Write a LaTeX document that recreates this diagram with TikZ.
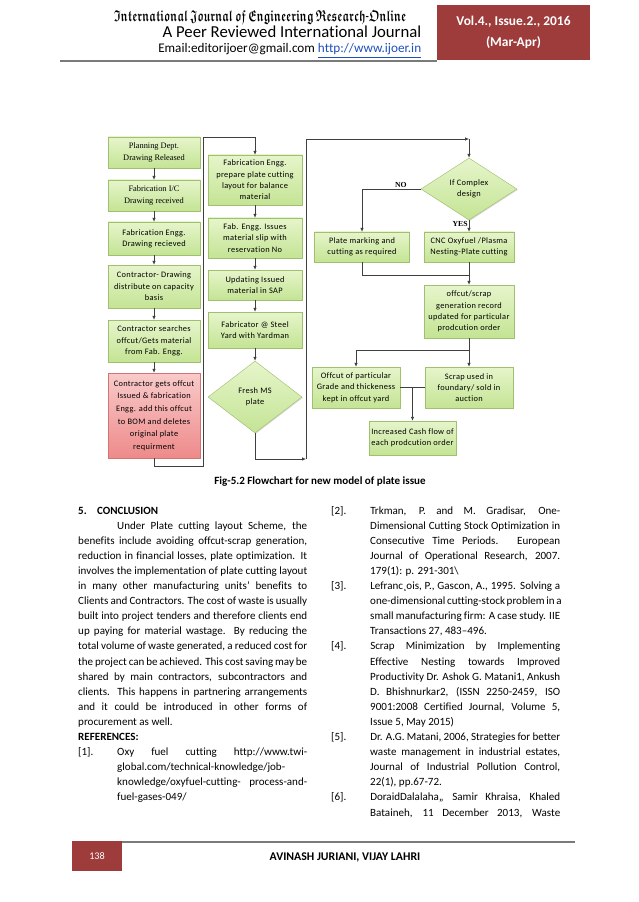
\documentclass[tikz,border=0pt]{standalone}
\usepackage{amsfonts}
\usepackage{fontspec}
\setmainfont{Carlito}[Ligatures=NoCommon]
\newfontfamily\boxfont{Carlito}[LetterSpace=4, Ligatures=NoCommon]
\newfontfamily\boxserif{Liberation Serif}
\usetikzlibrary{arrows.meta,shapes.geometric,shadows}

\definecolor{greentop}{HTML}{E6F5CB}
\definecolor{greenbot}{HTML}{C4E494}
\definecolor{greenedge}{HTML}{A0C070}
\definecolor{redtop}{HTML}{F9CACA}
\definecolor{redbot}{HTML}{EE8A8A}
\definecolor{rededge}{HTML}{D07474}
\definecolor{linegray}{HTML}{3F3F3F}
\definecolor{rulegray}{HTML}{7A7A7A}
\definecolor{journalred}{HTML}{9E3B3B}
\definecolor{linkblue}{HTML}{1F4FBF}

\newcommand\fullline[1]{\makebox[213.6pt][s]{#1}}
\newcommand\refline[1]{\makebox[177.2pt][s]{#1}}
\newcommand\plainline[1]{#1}
\newcommand\reflabel[1]{\makebox[36.4pt][l]{#1}}
\newcommand\frakword[1]{{\boldmath$\mathfrak{#1}$}}

\tikzset{%
  every box/.style={
    rectangle,
    draw=greenedge,
    line width=0.4pt,
    top color=greentop,
    bottom color=greenbot,
    drop shadow={shadow xshift=0.8pt, shadow yshift=-0.8pt, opacity=0.3},
    align=center,
    inner sep=1pt,
    font=\boxfont\fontsize{7.8}{10.6}\selectfont
  },
  box serif/.style={
    font=\boxserif\fontsize{7.8}{10.6}\selectfont
  },
  box red/.style={
    draw=rededge,
    top color=redtop,
    bottom color=redbot,
    font=\boxfont\fontsize{7.8}{11.8}\selectfont
  },
  box decision/.style={diamond, inner sep=0pt},
  px size/.style 2 args={minimum width=#1*0.9326pt, minimum height=#2*0.9326pt},
  flow line/.style={draw=linegray, line width=0.6pt},
  page rule/.style={draw=rulegray, line width=1.4pt},
  yes no/.style={font=\boxserif\bfseries\fontsize{7.2}{8}\selectfont, inner sep=1pt},
  body line/.style={anchor=base west, inner sep=0pt, font=\fontsize{10.3}{14}\selectfont}
 }

\begin{document}
\begin{tikzpicture}[x=0.9326pt, y=-0.9326pt, >={Latex[length=3.6pt,width=3.2pt]}]

\useasboundingbox (0,0) rectangle (638,902);
\fill[white] (0,0) rectangle (638,902);

% header
\node[anchor=base, font=\fontsize{15}{18}\selectfont] (journal) at (260,22)
  {\scalebox{0.675}[0.98]{\frakword{International} \frakword{Journal} \frakword{of}
   \frakword{Engineering} \frakword{Research}-\frakword{Online}}};
\node[anchor=base east, font=\fontsize{15.6}{18}\selectfont] (peer) at (425,38)
  {A Peer Reviewed International Journal};
\node[anchor=base east, font=\fontsize{12.3}{14}\selectfont] (email) at (425,53)
  {Email:editorijoer@gmail.com \textcolor{linkblue}{\underline{http://www.ijoer.in}}};
\node[fill=journalred, px size={153}{55}, align=center, text=white,
  font=\bfseries\fontsize{12.5}{19.5}\selectfont] (volume) at (513.5,32.5)
  {Vol.4., Issue.2., 2016\\(Mar-Apr)};
\coordinate (rule-start) at (60,61);
\draw [page rule] (rule-start) -- (rule-start -| volume.west);

% flowchart
\foreach \txt/\y/\h/\how [count=\i] in {
  {Planning Dept.\\Drawing Released}/152.5/31/serif,
  {Fabrication I/C\\Drawing received}/195.5/31/serif,
  {Fabrication Engg.\\Drawing recieved}/238.5/33/sans,
  {Contractor- Drawing\\distribute on capacity\\basis}/286.5/43/sans,
  {Contractor searches\\offcut/Gets material\\from Fab. Engg.}/341/42/sans,
  {Contractor gets offcut\\Issued \& fabrication\\Engg. add this offcut\\to BOM and deletes\\original plate\\requirment}/415.5/85/red}
  \node [every box, box \how/.try, px size={92}{\h}] (left-\i) at (154,\y) {\txt};

\foreach \txt/\y/\h [count=\i] in {
  {Fabrication Engg.\\prepare plate cutting\\layout for balance\\material}/180/50,
  {Fab. Engg. Issues\\material slip with\\reservation No}/238/40,
  {Updating Issued\\material in SAP}/285/30,
  {Fabricator @ Steel\\Yard with Yardman}/330/36}
  \node [every box, px size={94}{\h}] (mid-\i) at (255,\y) {\txt};

\node [every box, box decision, px size={94}{72}] (mid-5) at (255,397) {Fresh MS\\plate};

\node [every box, box decision, px size={96}{62}] (complex) at (469,189) {If Complex\\design};
\node [every box, px size={95}{30}] (marking) at (362,247) {Plate marking and\\cutting as required};
\node [every box, px size={90}{30}] (cnc) at (469,247) {CNC Oxyfuel /Plasma\\Nesting-Plate cutting};
\node [every box, px size={90}{53}] (record) at (469,311.5)
  {offcut/scrap\\generation record\\updated for particular\\prodcution order};
\node [every box, px size={88}{41}] (offcut) at (356,387.5)
  {Offcut of particular\\Grade and thickeness\\kept in offcut yard};
\node [every box, px size={88}{41}] (scrap) at (469,387.5) {Scrap used in\\foundary/ sold in\\auction};
\node [every box, px size={87}{34}] (cash) at (412.5,438) {Increased Cash flow of\\each prodcution order};

\coordinate (loop-a) at (203,466);
\coordinate (loop-b) at (203,137);
\coordinate (loop-c) at (306,459);
\coordinate (loop-d) at (306,139);
\coordinate (loop-e) at (469,139);
\coordinate (merge) at (469,275);
\coordinate (split) at (469,350);

\foreach \i/\j in {1/2,2/3,3/4,4/5,5/6}
  \draw [flow line, ->] (left-\i) -- (left-\j);

\foreach \i/\j in {1/2,2/3,3/4,4/5}
  \draw [flow line, ->] (mid-\i) -- (mid-\j);

\draw [flow line, ->] (left-6.south) |- (loop-a) -- (loop-b) -| (mid-1.north);
\draw [flow line, ->] (mid-5.south) |- (loop-c);
\draw [flow line, ->] (loop-c) -- (loop-d) -- (loop-e);
\draw [flow line, ->] (loop-e) -- (complex.north);
\draw [flow line, ->] (complex.west) -| node [pos=0.17, above, yes no] {NO} (marking.north);
\draw [flow line, ->] (complex.south) -- node [at start, anchor=north east, yes no] {YES} (cnc.north);
\draw [flow line] (marking.south) |- (merge);
\draw [flow line, ->] (cnc.south) -- (record.north);
\draw [flow line] (record.south) -- (split);
\draw [flow line, ->] (split) -| (offcut.north);
\draw [flow line, ->] (split) -- (scrap.north);
\draw [flow line] (offcut.east) -- coordinate [midway] (join) (scrap.west);
\draw [flow line, ->] (join) -- (cash.north);

\node [anchor=base, font=\bfseries\fontsize{10.3}{12}\selectfont] (caption) at (320,484)
  {Fig-5.2 Flowchart for new model of plate issue};

% text columns
\foreach \x/\how/\txt [count=\i from 0] in {
  78/\plainline/{\makebox[17.7pt][l]{\textbf{5.}}\textbf{CONCLUSION}},
  117/\refline/{Under Plate cutting layout Scheme, the},
  78/\fullline/{benefits include avoiding offcut-scrap generation,},
  78/\fullline/{reduction in financial losses, plate optimization. It},
  78/\fullline/{involves the implementation of plate cutting layout},
  78/\fullline/{in many other manufacturing units’ benefits to},
  78/\fullline/{Clients and Contractors. The cost of waste is usually},
  78/\fullline/{built into project tenders and therefore clients end},
  78/\fullline/{up paying for material wastage. By reducing the},
  78/\fullline/{total volume of waste generated, a reduced cost for},
  78/\fullline/{the project can be achieved. This cost saving may be},
  78/\fullline/{shared by main contractors, subcontractors and},
  78/\fullline/{clients. This happens in partnering arrangements},
  78/\fullline/{and it could be introduced in other forms of},
  78/\plainline/{procurement as well.},
  78/\plainline/{\textbf{REFERENCES:}},
  78/\plainline/{\reflabel{[1].}\refline{Oxy fuel cutting http://www.twi-}},
  117/\plainline/{global.com/technical-knowledge/job-},
  117/\refline/{knowledge/oxyfuel-cutting- process-and-},
  117/\plainline/{fuel-gases-049/}}
  \node [body line] (conclusion-\i) at (\x,514+15.1*\i) {\how{\txt}};

\foreach \x/\how/\txt [count=\i from 0] in {
  331/\plainline/{\reflabel{[2].}\refline{Trkman, P. and M. Gradisar, One-}},
  370/\refline/{Dimensional Cutting Stock Optimization in},
  370/\refline/{Consecutive Time Periods. European},
  370/\refline/{Journal of Operational Research, 2007.},
  370/\plainline/{179(1): p. 291-301\textbackslash},
  331/\plainline/{\reflabel{[3].}\refline{Lefranc¸ois, P., Gascon, A., 1995. Solving a}},
  370/\refline/{one-dimensional cutting-stock problem in a},
  370/\refline/{small manufacturing firm: A case study. IIE},
  370/\plainline/{Transactions 27, 483–496.},
  331/\plainline/{\reflabel{[4].}\refline{Scrap Minimization by Implementing}},
  370/\refline/{Effective Nesting towards Improved},
  370/\refline/{Productivity Dr. Ashok G. Matani1, Ankush},
  370/\refline/{D. Bhishnurkar2, (ISSN 2250-2459, ISO},
  370/\refline/{9001:2008 Certified Journal, Volume 5,},
  370/\plainline/{Issue 5, May 2015)},
  331/\plainline/{\reflabel{[5].}\refline{Dr. A.G. Matani, 2006, Strategies for better}},
  370/\refline/{waste management in industrial estates,},
  370/\refline/{Journal of Industrial Pollution Control,},
  370/\plainline/{22(1), pp.67-72.},
  331/\plainline/{\reflabel{[6].}\refline{DoraidDalalaha,, Samir Khraisa, Khaled}},
  370/\refline/{Bataineh, 11 December 2013, Waste}}
  \node [body line] (refs-\i) at (\x,514+15.1*\i) {\how{\txt}};

% footer
\coordinate (foot-start) at (72,842);
\draw [page rule] (foot-start) -- ++(503,0);
\node [fill=journalred, px size={50}{30}, text=white, font=\fontsize{9.5}{11}\selectfont] (page) at (97,856) {138};
\node [font=\bfseries\fontsize{11}{13}\selectfont] (authors) at (345,857) {AVINASH JURIANI, VIJAY LAHRI};

\end{tikzpicture}
\end{document}
